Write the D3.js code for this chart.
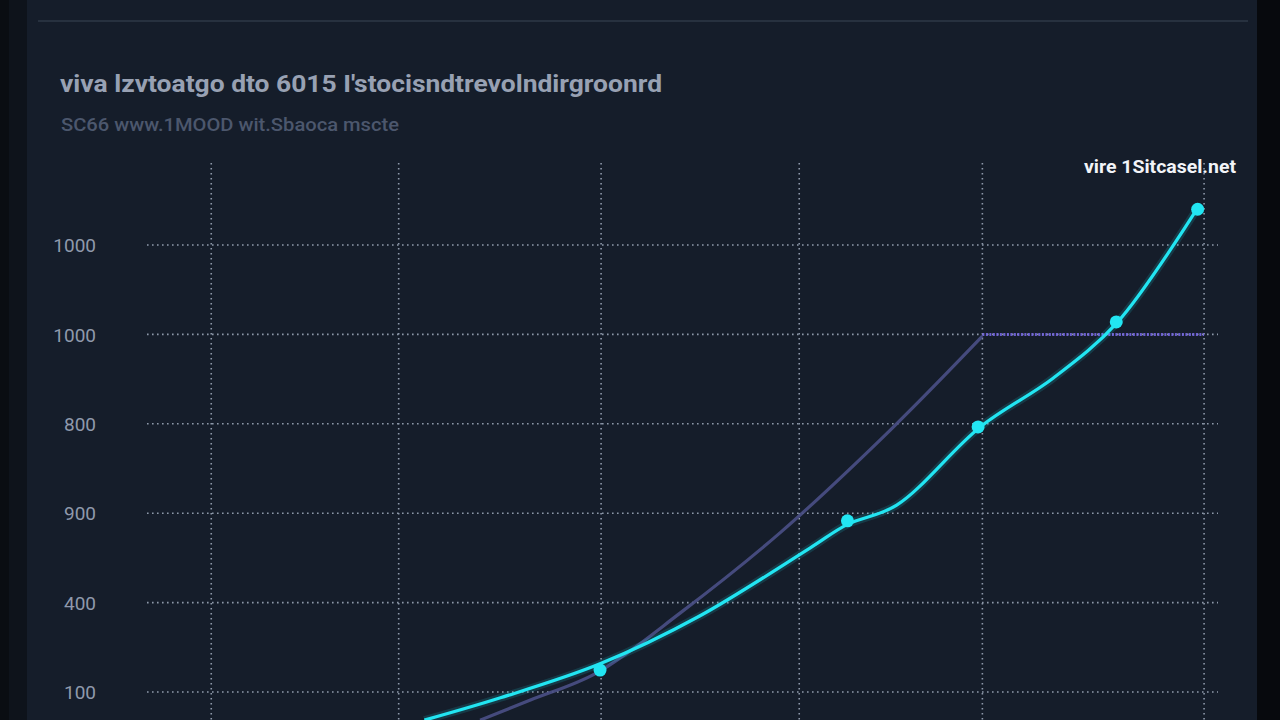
<!DOCTYPE html>
<html><head><meta charset="utf-8">
<script src="https://cdn.jsdelivr.net/npm/d3@7"></script>
<style>html,body{margin:0;padding:0;background:#0a0d12;}svg{display:block;}</style>
</head><body>
<svg id="c" width="1280" height="720"></svg>
<script>
// ---- data ----
const titleText = "viva lzvtoatgo dto 6015 I'stocisndtrevolndirgroonrd";
const subtitleText = "SC66 www.1MOOD wit.Sbaoca mscte";
const legendText = "vire 1Sitcasel.net";

const yTickValues = [200, 400, 600, 800, 1000, 1200];
const yTickLabels = ["100", "400", "900", "800", "1000", "1000"];
const xGridValues = [6, 23.5, 42.4, 60.9, 78, 98.7];

const cyanX = [25.9, 33.0, 42.3, 51.6, 61.9, 65.4, 70.0, 77.8, 84.6, 90.6, 98.1];
const cyanY = [137, 187, 263, 370, 522, 575, 618, 793, 902, 1027, 1283];
const markerX = [42.3, 65.4, 77.6, 90.5, 98.1];
const markerY = [249, 583, 793, 1028, 1280];

const slateX = [31.1, 35.8, 42.0, 49.8, 59.1, 69.4, 78.0];
const slateY = [137, 182, 243, 377, 556, 786, 996];

const refLineX = [78.0, 98.7];
const refLineY = [1000, 1000];

// ---- drawing ----
const svg = d3.select("#c");
const W = 1280, H = 720;

svg.append("rect").attr("width", W).attr("height", H).attr("fill", "#0a0d12");
svg.append("rect").attr("x", 9).attr("y", 0).attr("width", 18).attr("height", H).attr("fill", "#0e131b");
svg.append("rect").attr("x", 27).attr("y", 0).attr("width", 1230).attr("height", H).attr("fill", "#151d2a");
svg.append("rect").attr("x", 1257).attr("y", 0).attr("width", 23).attr("height", H).attr("fill", "#07090d");
svg.append("line").attr("x1", 38).attr("x2", 1248).attr("y1", 21).attr("y2", 21)
  .attr("stroke", "#27313f").attr("stroke-width", 2);

const x = d3.scaleLinear().domain([0, 100]).range([147, 1218]);
const y = d3.scaleLinear().domain([200, 1200]).range([692, 245]);

// gridlines
const grid = svg.append("g");
grid.selectAll("line.h").data(yTickValues).join("line")
  .attr("x1", x(0)).attr("x2", x(100))
  .attr("y1", d => y(d)).attr("y2", d => y(d))
  .attr("stroke", "#8e99aa").attr("stroke-width", 1.6).attr("stroke-dasharray", "1.6,3.4");
grid.selectAll("line.v").data(xGridValues).join("line")
  .attr("x1", d => x(d)).attr("x2", d => x(d))
  .attr("y1", 163).attr("y2", H)
  .attr("stroke", "#8e99aa").attr("stroke-width", 1.6).attr("stroke-dasharray", "1.6,3.4");

// y axis labels
const yAxis = d3.axisLeft(y).tickValues(yTickValues)
  .tickFormat((d, i) => yTickLabels[i]).tickSize(0).tickPadding(0);
const ga = svg.append("g").attr("transform", "translate(96,0)").call(yAxis);
ga.select(".domain").remove();
ga.selectAll("text").attr("fill", "#8f99ac").attr("font-family", "Roboto, 'DejaVu Sans', sans-serif")
  .attr("font-size", 19).attr("dy", "0.35em");

// title
svg.append("text").attr("x", 60).attr("y", 92).text(titleText)
  .attr("fill", "#98a1b3").attr("font-family", "Roboto, sans-serif").attr("font-weight", 700)
  .attr("font-size", 24).attr("textLength", 602).attr("lengthAdjust", "spacingAndGlyphs");
svg.append("text").attr("x", 61).attr("y", 131).text(subtitleText)
  .attr("fill", "#4c576d").attr("font-family", "Roboto, sans-serif").attr("font-weight", 500)
  .attr("font-size", 18).attr("textLength", 338).attr("lengthAdjust", "spacingAndGlyphs");

// legend label
svg.append("text").attr("x", 1236).attr("y", 173).attr("text-anchor", "end").text(legendText)
  .attr("fill", "#f2f4f8").attr("font-family", "Roboto, sans-serif").attr("font-weight", 700)
  .attr("font-size", 19).attr("textLength", 152).attr("lengthAdjust", "spacingAndGlyphs");

const line = d3.line().x(d => x(d[0])).y(d => y(d[1])).curve(d3.curveCatmullRom.alpha(0.5));

// reference (purple dotted) line
svg.append("path").datum(d3.zip(refLineX, refLineY)).attr("d", d3.line().x(d => x(d[0])).y(d => y(d[1])))
  .attr("fill", "none").attr("stroke", "#7466e0").attr("stroke-width", 3).attr("stroke-dasharray", "2,1.5")
  .attr("opacity", 0.9);

// slate line
svg.append("path").datum(d3.zip(slateX, slateY)).attr("d", line)
  .attr("fill", "none").attr("stroke", "#4a5086").attr("stroke-width", 3.2).attr("opacity", 0.9);

// cyan line glow + line
svg.append("path").datum(d3.zip(cyanX, cyanY)).attr("d", line)
  .attr("fill", "none").attr("stroke", "#1fe3f0").attr("stroke-width", 8).attr("opacity", 0.15);
svg.append("path").datum(d3.zip(cyanX, cyanY)).attr("d", line)
  .attr("fill", "none").attr("stroke", "#22e5f2").attr("stroke-width", 3.2);

svg.selectAll("circle.m").data(d3.zip(markerX, markerY)).join("circle")
  .attr("cx", d => x(d[0])).attr("cy", d => y(d[1])).attr("r", 6.5)
  .attr("fill", "#22e5f2");
</script>
</body></html>
